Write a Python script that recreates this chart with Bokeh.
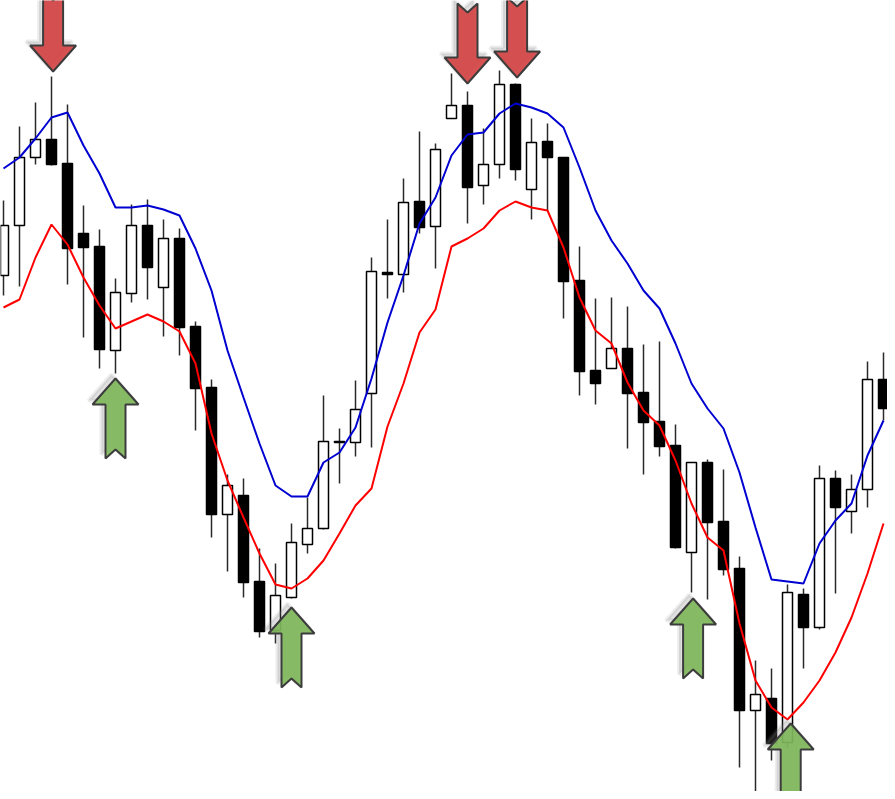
from bokeh.plotting import figure
from bokeh.models import Range1d, ColumnDataSource
from bokeh.embed import file_html
from bokeh.resources import INLINE

# ---- data (candle index, OHLC in chart price units) ----
bar = list(range(56))
open_ = [525, 575, 643, 661, 637, 567, 554, 450, 507, 575, 513, 562, 474, 413, 286, 305,
         219, 170, 203, 256, 272, 358, 358, 407, 528, 526, 599, 574, 682, 695, 615, 636,
         716, 611, 659, 643, 520, 430, 432, 452, 408, 379, 355, 248, 338, 279, 232, 90,
         102, 58, 206, 173, 322, 289, 311, 421]
close = [575, 643, 661, 636, 552, 553, 451, 508, 575, 533, 562, 473, 412, 286, 315, 218,
         169, 205, 258, 272, 359, 359, 391, 529, 526, 598, 573, 651, 695, 613, 636, 716,
         631, 658, 643, 519, 429, 417, 452, 407, 378, 354, 253, 338, 278, 231, 90, 106,
         57, 208, 173, 322, 293, 311, 421, 392]
high = [600, 674, 698, 724, 696, 595, 571, 522, 596, 601, 581, 572, 479, 421, 326, 322,
        252, 237, 277, 303, 405, 372, 420, 543, 581, 622, 669, 657, 727, 709, 672, 730,
        717, 682, 677, 643, 554, 502, 503, 494, 456, 459, 376, 338, 341, 331, 244, 140,
        132, 216, 212, 335, 330, 326, 439, 448]
low = [505, 514, 636, 635, 516, 463, 432, 427, 498, 501, 464, 445, 370, 263, 229, 203,
       163, 157, 202, 247, 271, 317, 344, 353, 502, 508, 567, 532, 682, 577, 596, 622,
       620, 581, 590, 482, 405, 396, 432, 352, 326, 344, 252, 208, 201, 225, 33, 5,
       40, 53, 132, 171, 207, 267, 293, 380]
upper_band = [632, 643, 662, 683, 688, 655, 627, 593, 593, 595, 591, 585, 552, 510, 450, 403,
              357, 315, 304, 304, 338, 348, 373, 422, 478, 525, 577, 603, 645, 666, 668, 687,
              697, 693, 687, 673, 633, 590, 560, 537, 510, 492, 457, 417, 392, 372, 328, 273,
              221, 219, 217, 257, 280, 297, 345, 380]
lower_band = [493, 501, 543, 576, 556, 523, 495, 472, 479, 486, 479, 469, 437, 367, 320, 283,
              247, 216, 212, 222, 240, 267, 295, 312, 374, 417, 468, 491, 554, 562, 572, 590,
              599, 593, 590, 553, 503, 470, 457, 418, 390, 375, 340, 297, 263, 250, 177, 120,
              93, 81, 98, 120, 148, 183, 227, 277]
# signal arrows: bar position, price at tip, direction
arrow_bar = [3.1, 29.0, 32.1, 7.0, 18.0, 43.1, 49.2]
arrow_tip = [729, 717, 723, 422, 193, 202, 77]
arrow_dir = ["down", "down", "down", "up", "up", "up", "up"]

# ---- figure ----
PX = 16.0  # pixels per bar
W, H = 887, 791
p = figure(width=W, height=H, output_backend="svg", toolbar_location=None,
           x_range=Range1d(-3 / PX, (W - 3) / PX), y_range=Range1d(800 - H, 800),
           min_border=0)
p.axis.visible = False
p.grid.visible = False
p.outline_line_color = None
p.background_fill_color = "white"
p.border_fill_color = "white"

bull = [c >= o for o, c in zip(open_, close)]
src = ColumnDataSource(dict(
    x=bar, high=high, low=low,
    top=[max(o, c) for o, c in zip(open_, close)],
    bottom=[min(o, c) for o, c in zip(open_, close)],
    fill=["white" if b else "black" for b in bull],
))

p.segment(x0="x", y0="high", x1="x", y1="low", source=src, line_color="#2a2a2a", line_width=1.5)
p.vbar(x="x", width=10 / PX, top="top", bottom="bottom", source=src,
       fill_color="fill", line_color="black", line_width=1.5)

p.line(bar, upper_band, line_color="#0000d0", line_width=2)
p.line(bar, lower_band, line_color="#ff0000", line_width=2)

# arrows
HEAD_L, HEAD_W, SHAFT_W, LEN, NOTCH = 26, 23 / PX, 10 / PX, 80, 9
xs, ys, cols, sxs, sys_ = [], [], [], [], []
for bx, t, d in zip(arrow_bar, arrow_tip, arrow_dir):
    s = 1 if d == "up" else -1
    px_ = [bx, bx + HEAD_W, bx + SHAFT_W, bx + SHAFT_W, bx, bx - SHAFT_W, bx - SHAFT_W, bx - HEAD_W]
    py_ = [t, t - s * HEAD_L, t - s * HEAD_L, t - s * LEN, t - s * (LEN - NOTCH),
           t - s * LEN, t - s * HEAD_L, t - s * HEAD_L]
    xs.append(px_)
    ys.append(py_)
    cols.append("#7fb65a" if d == "up" else "#d24343")
    sxs.append([v - 4 / PX for v in px_])
    sys_.append([v + 4 for v in py_])

p.patches(sxs, sys_, fill_color="#888888", fill_alpha=0.25, line_color="#888888",
          line_alpha=0.15, line_width=4)
p.patches(xs, ys, fill_color=cols, fill_alpha=0.92, line_color="#3c3c3c", line_width=2)

open("out.html", "w").write(file_html(p, INLINE))
